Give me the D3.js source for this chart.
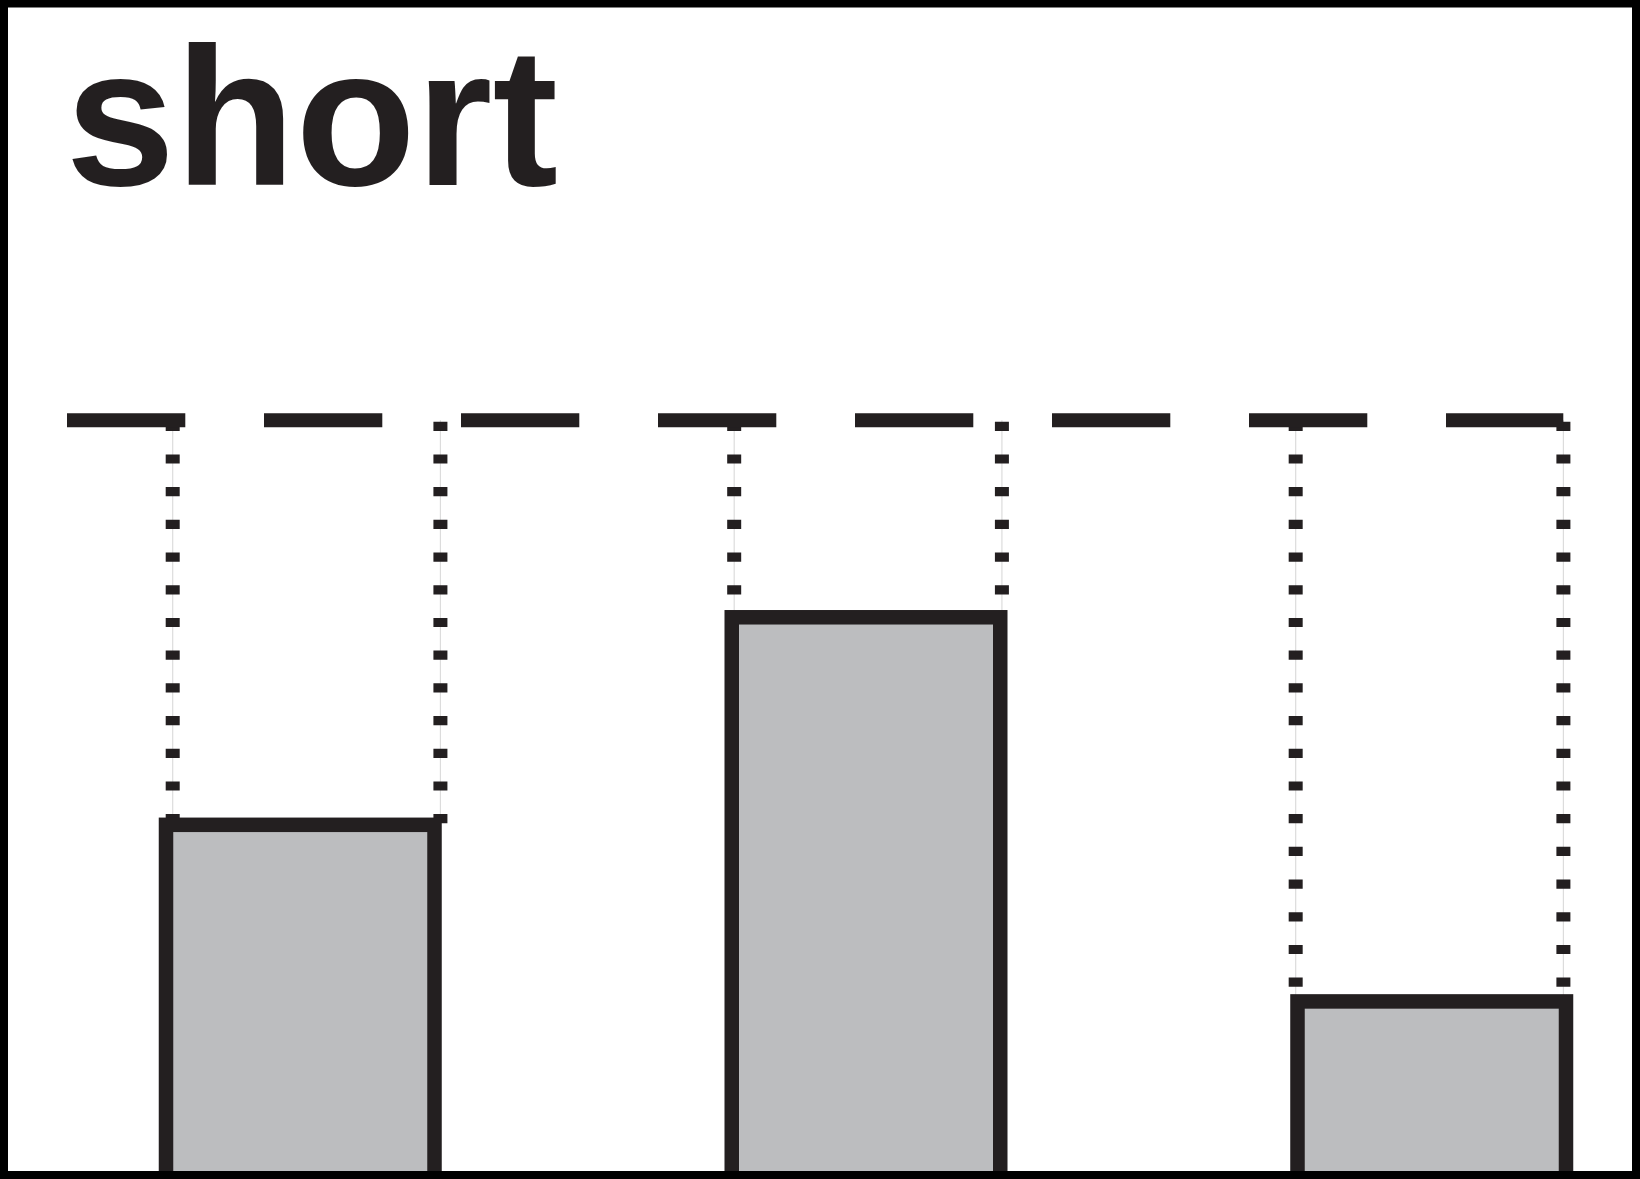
<!DOCTYPE html>
<html>
<head>
<meta charset="utf-8">
<script src="https://cdn.jsdelivr.net/npm/d3@7"></script>
<style>
  html, body { margin: 0; padding: 0; background: #fff; }
  svg { display: block; }
</style>
</head>
<body>
<script>
// ---- data ----
const categories = ["A", "B", "C"];
const values = [46.4, 73.9, 23.0];
const referenceValue = 100;
const titleText = "short";

// ---- layout ----
const W = 1640, H = 1179;
const ink = "#231f20";
const fill = "#bcbdbf";

const svg = d3.select("body").append("svg")
  .attr("width", W).attr("height", H);

svg.append("rect").attr("width", W).attr("height", H).attr("fill", "#fff");

const x = d3.scaleBand()
  .domain(categories)
  .range([166, 1566])
  .paddingInner(0.5254)
  .paddingOuter(0);

// guide (projection) lines band, slightly offset from bar edges as in the original
const xg = d3.scaleBand()
  .domain(categories)
  .range([172.7, 1563.4])
  .paddingInner(0.5232)
  .paddingOuter(0);

const y = d3.scaleLinear()
  .domain([0, referenceValue])
  .range([1175, 420.3]);

const data = categories.map((c, i) => ({ cat: c, value: values[i] }));

const guides = [];
data.forEach(d => {
  guides.push({ x: xg(d.cat), top: y(d.value) });
  guides.push({ x: xg(d.cat) + xg.bandwidth(), top: y(d.value) });
});

// thin guide lines
svg.append("g").selectAll("line")
  .data(guides).join("line")
  .attr("x1", d => d.x).attr("x2", d => d.x)
  .attr("y1", y(referenceValue)).attr("y2", d => d.top)
  .attr("stroke", "#dcdcdc").attr("stroke-width", 1.2);

// dotted square markers
svg.append("g").selectAll("line")
  .data(guides).join("line")
  .attr("x1", d => d.x).attr("x2", d => d.x)
  .attr("y1", y(referenceValue) + 1.4).attr("y2", d => d.top)
  .attr("stroke", ink).attr("stroke-width", 14)
  .attr("stroke-dasharray", "9.2 23.5");

// reference dashed line
svg.append("line")
  .attr("x1", 67).attr("x2", 1563.3)
  .attr("y1", y(referenceValue)).attr("y2", y(referenceValue))
  .attr("stroke", ink).attr("stroke-width", 14)
  .attr("stroke-dasharray", "118.3 78.7");

// bars
svg.append("g").selectAll("rect")
  .data(data).join("rect")
  .attr("x", d => x(d.cat))
  .attr("y", d => y(d.value))
  .attr("width", x.bandwidth())
  .attr("height", d => y(-10) - y(d.value))
  .attr("fill", fill)
  .attr("stroke", ink)
  .attr("stroke-width", 14.5);

// title
svg.append("text")
  .attr("x", 65.5).attr("y", 185)
  .attr("font-family", "'Liberation Sans', Arial, Helvetica, sans-serif")
  .attr("font-weight", "bold")
  .attr("font-size", 197)
  .attr("fill", ink)
  .text(titleText);

// frame
svg.append("rect")
  .attr("x", 4).attr("y", 3.5)
  .attr("width", W - 8).attr("height", H - 7.5)
  .attr("fill", "none")
  .attr("stroke", "#000")
  .attr("stroke-width", 8);
</script>
</body>
</html>
